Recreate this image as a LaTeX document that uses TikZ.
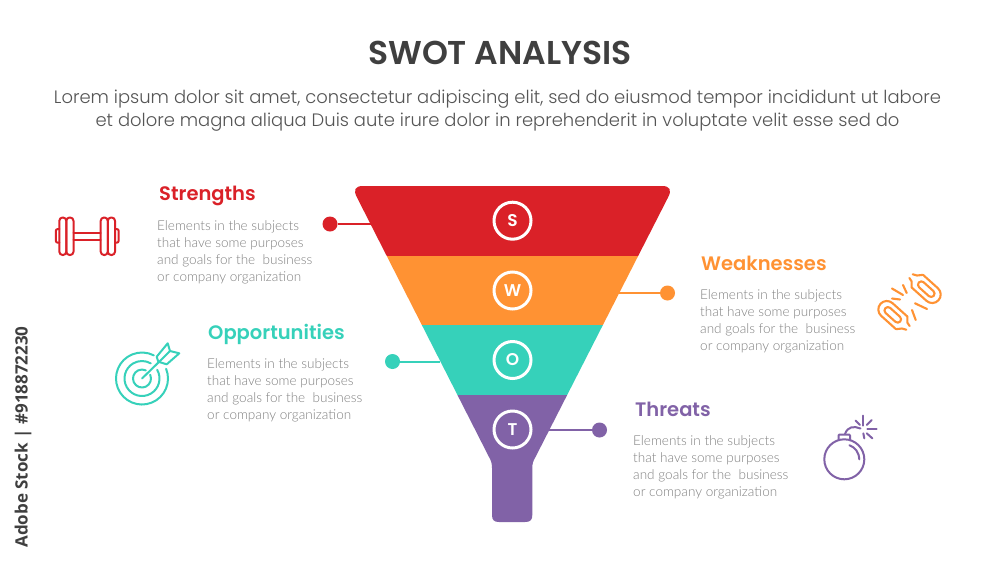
\documentclass[tikz,border=0pt]{standalone}
\usepackage{fontspec}
\setmainfont{Lato}
\newfontfamily\popb{Poppins}[UprightFont=* SemiBold]
\newfontfamily\popl{Poppins}[UprightFont=* Light]
\newfontfamily\latol{Lato}[UprightFont=* Light]
\newfontfamily\opens{Open Sans}
\definecolor{cred}{HTML}{DA2128}
\definecolor{corange}{HTML}{FF9233}
\definecolor{cteal}{HTML}{36D1BA}
\definecolor{cpurple}{HTML}{8162A7}
\definecolor{cbody}{HTML}{808080}
\definecolor{ctitle}{HTML}{3F3F3F}
\definecolor{csub}{HTML}{555555}
\tikzset{
  badge/.style={circle,draw=white,line width=3pt,minimum size=37pt,inner sep=0pt,text=white,font=\popb\fontsize{17}{17}\selectfont},
  headlabel/.style={anchor=west,inner sep=0pt,font=\popb\fontsize{19.5}{19.5}\selectfont},
  bodytext/.style={anchor=north west,inner sep=0pt,align=left,text=cbody,font=\latol\fontsize{13.55}{17}\selectfont},
  enddot/.style={circle,inner sep=0pt,minimum size=15pt},
  link/.style={line width=2pt},
  icon/.style={line width=2pt,line cap=round,line join=round}
}
\begin{document}
\begin{tikzpicture}[x=1pt,y=-1pt]
\useasboundingbox (0,0) rectangle (1000,563);
\fill[white] (0,0) rectangle (1000,563);
% texts
\node[inner sep=0pt,text=ctitle,font=\popb\fontsize{33}{33}\selectfont] (title) at (500,53) {SWOT ANALYSIS};
\node[inner sep=0pt,text=csub,align=center,font=\popl\fontsize{17.95}{23}\selectfont] (sub) at (497.5,110.5)
 {Lorem ipsum dolor sit amet, consectetur adipiscing elit, sed do eiusmod tempor incididunt ut labore\\et dolore magna aliqua Duis aute irure dolor in reprehenderit in voluptate velit esse sed do};
% funnel
\begin{scope}
\clip (363,186) -- (662,186) .. controls (670,186) and (672,190) .. (668,197.5)
  -- (535.5,457) .. controls (533,461) and (532.3,464) .. (532.3,468)
  -- (532.3,515) .. controls (532.3,520) and (530.3,522) .. (525,522)
  -- (499,522) .. controls (494,522) and (492,520) .. (492,515)
  -- (492,468) .. controls (492,464) and (491.3,461) .. (489,457)
  -- (357,197.5) .. controls (353,190) and (355,186) .. (363,186) -- cycle;
\fill[cred] (340,180) rectangle (690,255.7);
\fill[corange] (340,255.7) rectangle (690,325.3);
\fill[cteal] (340,325.3) rectangle (690,395);
\fill[cpurple] (340,395) rectangle (690,530);
\end{scope}
\node[badge] (bs) at (512.5,220.7) {S};
\node[badge] (bw) at (512.5,290.5) {W};
\node[badge] (bo) at (512.5,360) {O};
\node[badge] (bt) at (512.5,429.5) {T};
% connectors
\node[enddot,fill=cred] (ds) at (330,224) {};
\node[enddot,fill=corange] (dw) at (667.5,293) {};
\node[enddot,fill=cteal] (do) at (392.5,361.5) {};
\node[enddot,fill=cpurple] (dt) at (599.5,430) {};
\coordinate (es) at (372,224);
\coordinate (ew) at (619,293);
\coordinate (eo) at (440,361.5);
\coordinate (et) at (549,430);
\draw[link,cred] (ds) -- (es);
\draw[link,corange] (dw) -- (ew);
\draw[link,cteal] (do) -- (eo);
\draw[link,cpurple] (dt) -- (et);
% labels
\node[headlabel,text=cred] (hs) at (159,196) {Strengths};
\node[bodytext] (ts) at (157,220.5) {Elements in the subjects\\that have some purposes\\and goals for the\ \ business\\or company organization};
\node[headlabel,text=corange] (hw) at (701,263.5) {Weaknesses};
\node[bodytext] (tw) at (700,289.5) {Elements in the subjects\\that have some purposes\\and goals for the\ \ business\\or company organization};
\node[headlabel,text=cteal] (ho) at (208,334) {Opportunities};
\node[bodytext] (to) at (207,358.5) {Elements in the subjects\\that have some purposes\\and goals for the\ \ business\\or company organization};
\node[headlabel,text=cpurple] (ht) at (635,409.5) {Threats};
\node[bodytext] (tt) at (633,435.5) {Elements in the subjects\\that have some purposes\\and goals for the\ \ business\\or company organization};
% dumbbell
\begin{scope}[icon,draw=cred]
\draw[rounded corners=2pt] (59.3,229) -- (55.8,229) -- (55.8,242.7) -- (59.3,242.7);
\draw[rounded corners=3.3pt] (59.3,217.5) rectangle (66.3,255);
\draw[rounded corners=3.3pt] (66.3,217.5) rectangle (73.5,255);
\draw (73.5,232.5) -- (100.7,232.5) (73.5,239.7) -- (100.7,239.7);
\draw[rounded corners=3.3pt] (100.7,217.5) rectangle (107.8,255);
\draw[rounded corners=3.3pt] (107.8,217.5) rectangle (115,255);
\draw[rounded corners=2pt] (115,229) -- (118.7,229) -- (118.7,242.7) -- (115,242.7);
\end{scope}
% target
\begin{scope}[icon,draw=cteal]
\draw (142,378.5) ++(-22:26) arc[start angle=-22,end angle=297,radius=26];
\draw (142,378.5) ++(-30:17.5) arc[start angle=-30,end angle=300,radius=17.5];
\draw (142,378.5) ++(-25:9) arc[start angle=-25,end angle=295,radius=9];
\draw (142,378.5) -- (162,359);
\draw (156.7,356.7) -- (167.7,343.3) -- (170,351) -- (179.3,353.3) -- (166.7,364.3) -- (158.3,361.7) -- cycle;
\draw (162,359) -- (170,351);
\end{scope}
% chain
\begin{scope}[icon,draw=corange,line width=2.1pt]
\begin{scope}[shift={(925.5,288.5)},rotate=-42]
\draw[rounded corners=8.5pt] (-11,8.5) -- (17.5,8.5) -- (17.5,-8.5) -- (-11,-8.5);
\draw (-11,8.5) -- (-15,4) -- (-19,3) (-11,-8.5) -- (-15,-4) -- (-19,-2);
\draw[rounded corners=3.4pt] (-9,3.4) rectangle (11,-3.4);
\end{scope}
\begin{scope}[shift={(893.5,315.5)},rotate=-42]
\draw[rounded corners=8.5pt] (11,-8.5) -- (-17.5,-8.5) -- (-17.5,8.5) -- (11,8.5);
\draw (11,-8.5) -- (15,-4) -- (19,-3) (11,8.5) -- (15,4) -- (19,2);
\draw[rounded corners=3.4pt] (9,-3.4) rectangle (-11,3.4);
\end{scope}
\draw (892,288.5) -- (903,295);
\draw (903,285) -- (906.7,293);
\draw (892,298.5) -- (900,299.5);
\draw (915,303.3) -- (927,309);
\draw (912,310) -- (915.7,320);
\end{scope}
% bomb
\begin{scope}[icon,draw=cpurple]
\draw (844.3,459.3) circle (20);
\draw (844.3,459.3) ++(-70:15) arc[start angle=-70,end angle=0,radius=15];
\draw[rounded corners=1pt] (838.5,440) -- (838.5,434.5) -- (850,434.5) -- (850,440);
\draw (845,434) .. controls (848,426) and (854,426) .. (860.5,428.5);
\draw (863.3,415.5) -- (863.3,425.5);
\draw (871.7,420) -- (866.7,425);
\draw (855.5,420.5) -- (860,425);
\draw (867.3,429) -- (876.5,429);
\draw (866.7,433.3) -- (872.3,438.3);
\draw (863.3,433.3) -- (864.3,438.3);
\end{scope}
% stock
\node[rotate=90,inner sep=0pt,text=ctitle,font=\bfseries\opens\fontsize{17}{17}\selectfont] (stock) at (23,437) {Adobe Stock | \#918872230};
\end{tikzpicture}
\end{document}
